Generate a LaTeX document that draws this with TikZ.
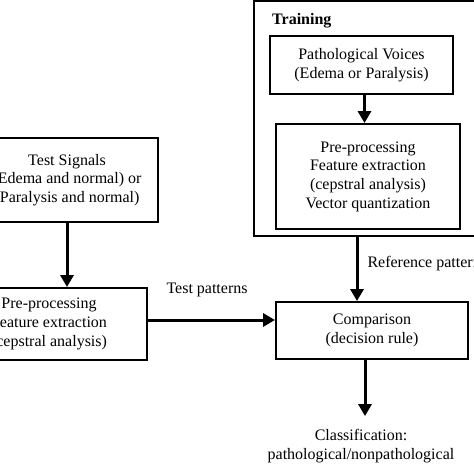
\documentclass[tikz,border=0pt]{standalone}
\usepackage{fontspec}
\setmainfont{Liberation Serif}
\usetikzlibrary{arrows.meta,positioning}

\begin{document}
\begin{tikzpicture}[x=1pt,y=-1pt,
  box/.style={draw,line width=1.9pt,align=center,inner sep=0pt,
    font=\fontsize{16}{18.7}\selectfont},
  arr/.style={line width=3pt,-{Triangle[length=12pt,width=13pt]}},
  lbl/.style={inner sep=0pt,align=center,font=\fontsize{16}{18.7}\selectfont}]
  \useasboundingbox (0,0) rectangle (474,474);
  \clip (0,0) rectangle (474,474);
  % training part
  \node (train) [box,minimum width=246pt,minimum height=235pt] at (377,118.5) {};
  \node (trlbl) [lbl,anchor=west,font=\fontsize{16}{18.7}\selectfont\bfseries] at (272,20.5) {Training};
  \node (voice) [box,minimum width=183pt,minimum height=58pt] at (361.5,65)
    {Pathological Voices\\(Edema or Paralysis)};
  \node (trpre) [box,minimum width=184pt,minimum height=105pt] at (368,176.5)
    {Pre-processing\\Feature extraction\\(cepstral analysis)\\Vector quantization};
  % test part
  \node (sig) [box,minimum width=182pt,minimum height=84pt] at (67,180)
    {Test Signals\\(Edema and normal) or\\(Paralysis and normal)};
  \node (tspre) [box,minimum width=196pt,minimum height=72pt] at (49,324)
    {Pre-processing\\Feature extraction\\(cepstral analysis)};
  \node (comp) [box,minimum width=192pt,minimum height=57pt] at (372,330.5)
    {Comparison\\(decision rule)};
  \node (cls) [lbl,inner ysep=13pt] at (361,446)
    {Classification:\\pathological/nonpathological};
  \path[arr]
  ([xshift=3pt]voice.south) edge ([xshift=3pt]voice.south |- trpre.north)
  (sig.south) edge (sig.south |- tspre.north)
  ([yshift=4pt]tspre.east) edge node [lbl,above=22pt,pos=0.465] {Test patterns}
  ([yshift=4pt]tspre.east -| comp.west)
  ([xshift=-15pt]comp.north |- train.south) edge node [lbl,right=9pt,pos=0.42] {Reference patterns}
  ([xshift=-15pt]comp.north)
  ([xshift=-7pt]comp.south) edge ([xshift=-7pt]comp.south |- cls.north);
\end{tikzpicture}
\end{document}
